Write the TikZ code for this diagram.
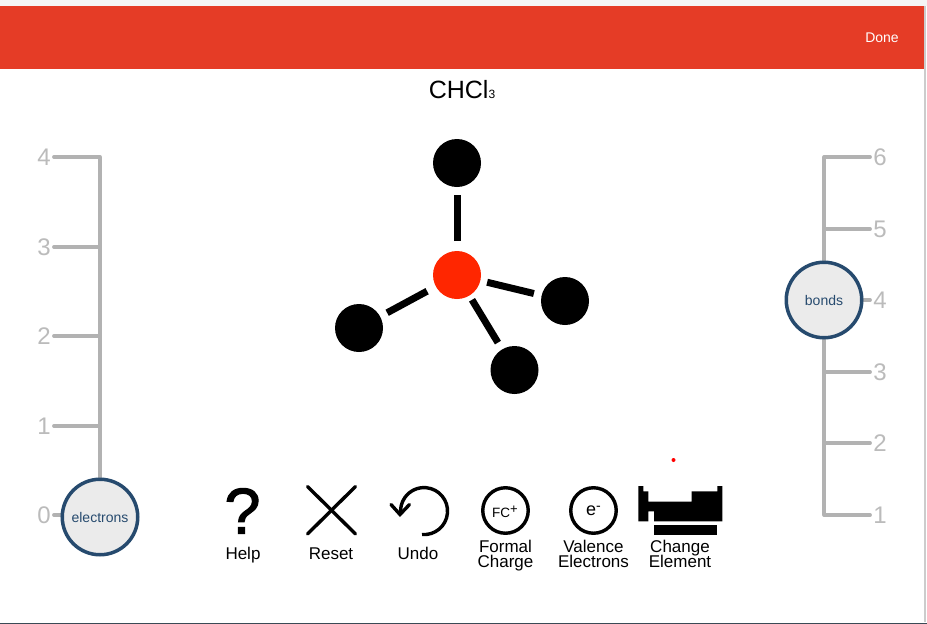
\documentclass[tikz,border=0pt]{standalone}
\usepackage{fontspec}
\setmainfont{Liberation Sans}
\usepackage{xcolor}
\definecolor{barred}{HTML}{E53C26}
\definecolor{scalegray}{HTML}{B2B2B2}
\definecolor{numgray}{HTML}{BBBBBB}
\definecolor{knobblue}{HTML}{264A6E}
\definecolor{knobfill}{HTML}{EBEBEB}
\definecolor{atomred}{HTML}{FF2600}
\definecolor{edgedark}{HTML}{3A4A55}
\newcommand{\px}[1]{\fontsize{#1}{#1}\selectfont}
\newcommand{\toolfont}{\fontsize{17}{15}\selectfont\lineskiplimit=-10pt\relax}
\newcommand{\helpfont}{\fontsize{65}{65}\selectfont\addfontfeature{FakeBold=1.6}}
\tikzset{
    scaleline/.style={line width=3.8pt, scalegray, line cap=round},
    scalenum/.style={numgray, font=\px{24}, inner sep=0pt},
    knob/.style={circle, draw=knobblue, line width=3.5pt, fill=knobfill, minimum size=75.5pt, inner sep=0pt, text=knobblue, font=\px{14}},
    atom/.style={circle, fill=black, minimum size=48pt, inner sep=0pt},
    bond/.style={line width=7pt, black, shorten >=32pt},
    toollabel/.style={align=center, inner sep=0pt, anchor=base, font=\toolfont},
    toolicon/.style={line width=3.4pt, black},
    toolring/.style={circle, draw=black, line width=3.4pt, minimum size=45.5pt, inner sep=0pt}
}
\begin{document}
\begin{tikzpicture}[x=1pt, y=-1pt]
    \useasboundingbox (0,0) rectangle (927,624);

    % Draw page frame and top bar.
    \fill[white] (0,0) rectangle (927,624);
    \fill[black!4] (0,0) rectangle (927,6);
    \fill[barred] (0,6) rectangle (924,69);
    \fill[black!20] (924,6) rectangle (925.5,622);
    \fill[edgedark] (0,622.5) rectangle (927,624);
    \node[text=white, font=\px{14}, inner sep=0pt] (done) at (882,38) {Done};
    \node[font=\px{25}, inner sep=0pt] (title) at (462,89.5) {CHCl{\px{12}3}};

    % Draw electrons scale.
    \coordinate (etop) at (100,157);
    \coordinate (ebot) at (100,515);
    \draw[scaleline, line cap=butt] (etop) -- (ebot);
    \foreach \n/\y in {0/515,1/426,2/336,3/247,4/157} {
        \coordinate (ea\n) at (100,\y);
        \coordinate (eb\n) at (54,\y);
        \draw[scaleline] (ea\n) -- (eb\n);
        \node[scalenum] (en\n) at (44,\y) {\n};
    }
    \node[knob] (electrons) at (100,517) {electrons};

    % Draw bonds scale.
    \coordinate (btop) at (824,157);
    \coordinate (bbot) at (824,515);
    \draw[scaleline, line cap=butt] (btop) -- (bbot);
    \foreach \n/\y in {1/515,2/443,3/372,4/300,5/229,6/157} {
        \coordinate (ba\n) at (824,\y);
        \coordinate (bb\n) at (870,\y);
        \draw[scaleline] (ba\n) -- (bb\n);
        \node[scalenum] (bn\n) at (880,\y) {\n};
    }
    \node[knob] (bonds) at (824,300) {bonds};

    % Draw molecule.
    \node[atom, fill=atomred] (center) at (457,275) {};
    \node[atom] (top) at (457,163) {};
    \node[atom] (left) at (359,328) {};
    \node[atom] (right) at (565,301) {};
    \node[atom] (bottom) at (514.5,370) {};
    \foreach \a/\s in {top/34,left/34,right/31,bottom/29}
        \draw[bond, shorten <=\s pt] (center.center) -- (\a.center);

    % Draw tool buttons.
    \node[font=\helpfont, inner sep=0pt] (help) at (242.5,511) {?};
    \node[toollabel] (helplabel) at (243,559) {Help};

    \coordinate (xa) at (307.5,486.5);
    \coordinate (xb) at (355.5,534);
    \coordinate (xc) at (355.5,486.5);
    \coordinate (xd) at (307.5,534);
    \draw[toolicon, line cap=round] (xa) -- (xb);
    \draw[toolicon, line cap=round] (xc) -- (xd);
    \node[toollabel] (resetlabel) at (331,559) {Reset};

    \draw[toolicon] (422,534.5) arc[start angle=-95, end angle=187, radius=23.5pt];
    \draw[toolicon, line cap=round, line join=miter] (391,504.5) -- (400,514.5) -- (409.5,504.5);
    \node[toollabel] (undolabel) at (418,559) {Undo};

    \node[toolring] (fc) at (505.5,510.5) {};
    \node[font=\px{13.5}, inner sep=0pt] (fctext) at (505,511.5) {FC\raisebox{4pt}{\px{13}+}};
    \node[toollabel] (fclabel) at (505.5,567.3) {Formal\\Charge};

    \node[toolring] (ve) at (593.5,510.5) {};
    \node[font=\px{18}, inner sep=0pt] (vetext) at (593.5,510.5) {e\raisebox{5pt}{\px{14}-}};
    \node[toollabel] (velabel) at (593.5,567.3) {Valence\\Electrons};

    \fill (638.3,486) -- (643.3,486) -- (643.3,491.3) -- (648.3,491.3) -- (648.3,501.7)
        -- (691.7,501.7) -- (691.7,491.3) -- (717.3,491.3) -- (717.3,486) -- (722.3,486)
        -- (722.3,521.3) -- (654,521.3) -- (654,511.3) -- (648.3,511.3) -- (648.3,521.3)
        -- (638.3,521.3) -- cycle;
    \fill (654,525.3) rectangle (717.3,535.3);
    \node[toollabel] (cellabel) at (680,567.3) {Change\\Element};
    \fill[red] (673.5,460) circle (2);
\end{tikzpicture}
\end{document}
